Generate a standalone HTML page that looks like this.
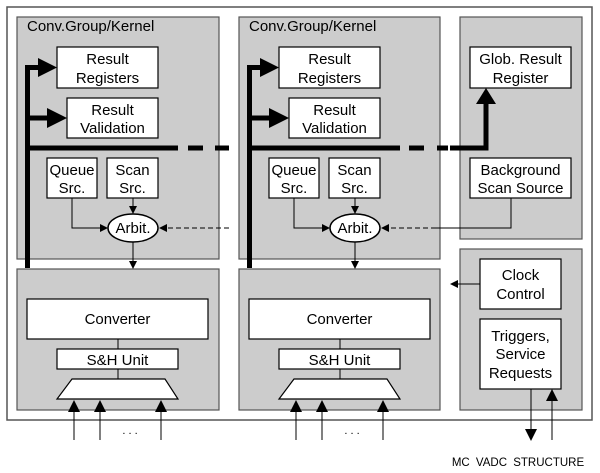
<!DOCTYPE html>
<html><head><meta charset="utf-8"><style>
html,body{margin:0;padding:0;background:#fff;}
text{font-family:"Liberation Sans",Arial,sans-serif;font-size:15px;fill:#000;}
</style></head><body>
<svg width="600" height="468" viewBox="0 0 600 468" xmlns="http://www.w3.org/2000/svg" font-family="Liberation Sans, Arial, sans-serif">
<defs>
<marker id="a" markerWidth="8" markerHeight="8" refX="7" refY="4" orient="auto" markerUnits="userSpaceOnUse"><path d="M0,0 L8,4 L0,8 Z" fill="#000"/></marker>
<marker id="am" markerWidth="12" markerHeight="12" refX="11" refY="6" orient="auto" markerUnits="userSpaceOnUse"><path d="M0,0 L12,6 L0,12 Z" fill="#000"/></marker>
</defs>
<rect x="7" y="7" width="585" height="413" fill="#fff" stroke="#555" stroke-width="1.5"/>
<g fill="#cccccc" stroke="#555" stroke-width="1.2">
<rect x="17" y="17" width="202" height="242"/>
<rect x="17" y="269" width="202" height="141"/>
<rect x="239" y="17" width="201" height="242"/>
<rect x="239" y="269" width="201" height="141"/>
<rect x="460" y="17" width="122" height="222"/>
<rect x="460" y="249" width="122" height="161"/>
</g>
<g id="grp">
<text x="27" y="31">Conv.Group/Kernel</text>
<rect x="57" y="47" width="101" height="41" fill="#fff" stroke="#000" stroke-width="1.2"/>
<text x="107.5" y="64" text-anchor="middle">Result</text>
<text x="107.5" y="83" text-anchor="middle">Registers</text>
<rect x="67" y="98" width="91" height="40" fill="#fff" stroke="#000" stroke-width="1.2"/>
<text x="112.5" y="115" text-anchor="middle">Result</text>
<text x="112.5" y="133" text-anchor="middle">Validation</text>
<path d="M27.5,268 V67.5 H40" fill="none" stroke="#000" stroke-width="5"/>
<path d="M38,58 L57,67.5 L38,77 Z" fill="#000"/>
<path d="M27.5,118 H48" stroke="#000" stroke-width="5"/>
<path d="M47,108 L67,118 L47,128 Z" fill="#000"/>
<path d="M27.5,148 H178" stroke="#000" stroke-width="5"/>
<rect x="47" y="158" width="50" height="40" fill="#fff" stroke="#000" stroke-width="1.2"/>
<text x="72" y="175" text-anchor="middle">Queue</text>
<text x="72" y="193" text-anchor="middle">Src.</text>
<rect x="107" y="158" width="51" height="40" fill="#fff" stroke="#000" stroke-width="1.2"/>
<text x="132.5" y="175" text-anchor="middle">Scan</text>
<text x="132.5" y="193" text-anchor="middle">Src.</text>
<path d="M72,198 V228 H107" fill="none" stroke="#000" stroke-width="1" marker-end="url(#a)"/>
<path d="M133,198 V213" fill="none" stroke="#000" stroke-width="1" marker-end="url(#a)"/>
<ellipse cx="133" cy="228" rx="25" ry="14" fill="#fff" stroke="#000" stroke-width="1.5"/>
<text x="133" y="233" text-anchor="middle">Arbit.</text>
<path d="M133,242 V268" stroke="#000" stroke-width="1" marker-end="url(#a)"/>
<rect x="27" y="299" width="181" height="40" fill="#fff" stroke="#000" stroke-width="1.2"/>
<text x="117.5" y="324" text-anchor="middle">Converter</text>
<path d="M118,339 V349 M118,369 V379" stroke="#000" stroke-width="1"/>
<rect x="57" y="349" width="121" height="20" fill="#fff" stroke="#000" stroke-width="1.2"/>
<text x="117.5" y="365" text-anchor="middle">S&amp;H Unit</text>
<path d="M72,379 H165 L178,399 H57 Z" fill="#fff" stroke="#000" stroke-width="1.2"/>
<path d="M74,440 V401" stroke="#000" stroke-width="1" marker-end="url(#am)"/>
<path d="M100,440 V401" stroke="#000" stroke-width="1" marker-end="url(#am)"/>
<path d="M161,440 V401" stroke="#000" stroke-width="1" marker-end="url(#am)"/>
<text x="130" y="434" text-anchor="middle" style="font-size:11px">. . .</text>
</g>
<use href="#grp" transform="translate(222,0)"/>
<path d="M188,148 H203 M215,148 H229" stroke="#000" stroke-width="5"/>
<path d="M409,148 H424 M437,148 H448" stroke="#000" stroke-width="5"/>
<path d="M450,148 H486 V100" fill="none" stroke="#000" stroke-width="5"/>
<path d="M476,104 L486,88 L496,104 Z" fill="#000"/>
<path d="M229,228 H160" stroke="#000" stroke-width="1" stroke-dasharray="5,3" marker-end="url(#a)"/>
<rect x="470" y="47" width="101" height="41" fill="#fff" stroke="#000" stroke-width="1.2"/>
<text x="520.5" y="64" text-anchor="middle">Glob. Result</text>
<text x="520.5" y="83" text-anchor="middle">Register</text>
<rect x="470" y="158" width="101" height="40" fill="#fff" stroke="#000" stroke-width="1.2"/>
<text x="520.5" y="175" text-anchor="middle">Background</text>
<text x="520.5" y="193" text-anchor="middle">Scan Source</text>
<path d="M511,198 V228 H436" fill="none" stroke="#000" stroke-width="1"/>
<path d="M436,228 H382" stroke="#000" stroke-width="1" stroke-dasharray="5,3" marker-end="url(#a)"/>
<rect x="480" y="259" width="81" height="50" fill="#fff" stroke="#000" stroke-width="1.2"/>
<text x="520.5" y="280" text-anchor="middle">Clock</text>
<text x="520.5" y="299" text-anchor="middle">Control</text>
<path d="M480,284 H451" stroke="#000" stroke-width="1" marker-end="url(#a)"/>
<rect x="480" y="319" width="81" height="70" fill="#fff" stroke="#000" stroke-width="1.2"/>
<text x="520.5" y="341" text-anchor="middle">Triggers,</text>
<text x="520.5" y="359" text-anchor="middle">Service</text>
<text x="520.5" y="378" text-anchor="middle">Requests</text>
<path d="M531,389 V440" stroke="#000" stroke-width="1" marker-end="url(#am)"/>
<path d="M552,440 V390" stroke="#000" stroke-width="1" marker-end="url(#am)"/>
<text x="518" y="466" text-anchor="middle" style="font-size:11.5px;word-spacing:3px">MC VADC STRUCTURE</text>
</svg>
</body></html>
